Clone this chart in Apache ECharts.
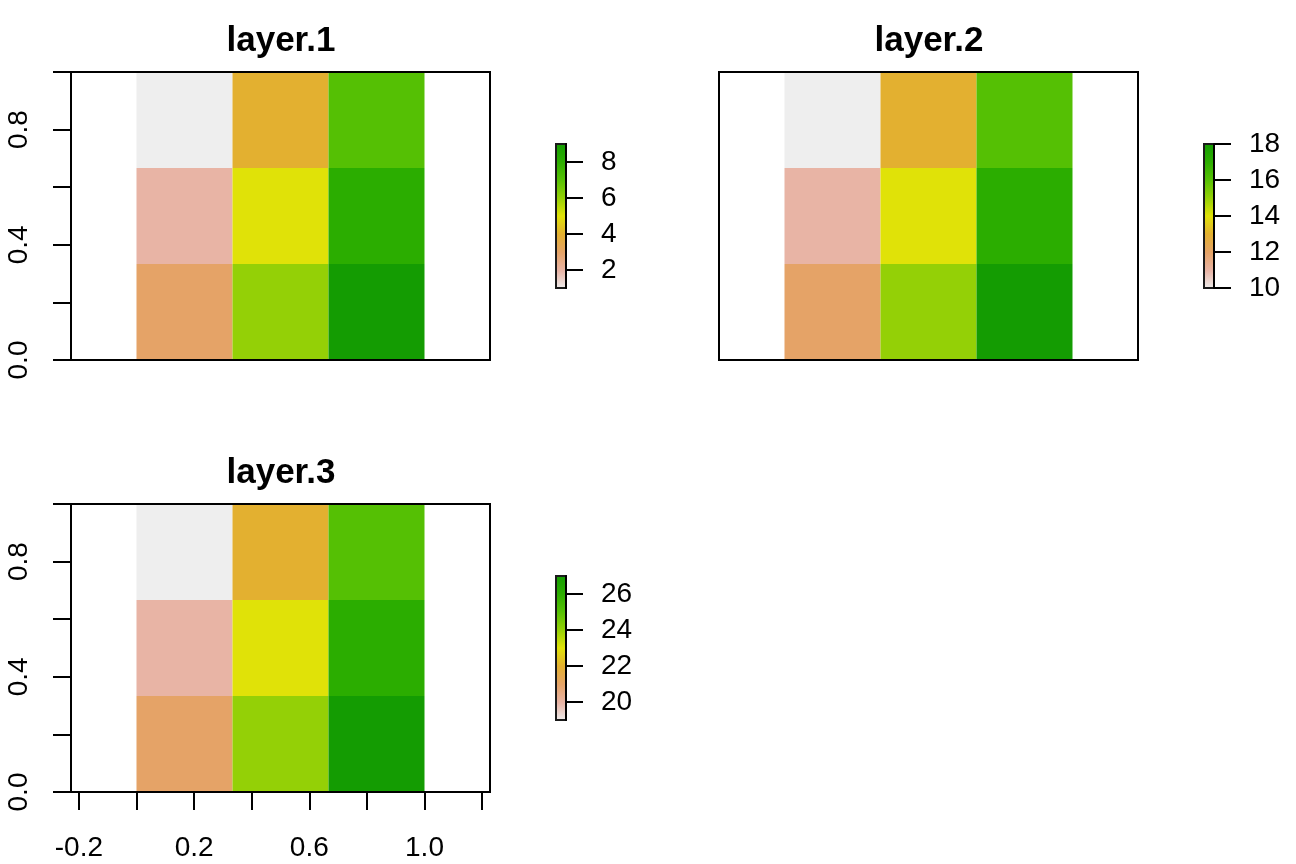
<!DOCTYPE html>
<html><head><meta charset="utf-8">
<script src="https://cdn.jsdelivr.net/npm/echarts@6/dist/echarts.min.js"></script>
<style>html,body{margin:0;padding:0;background:#fff}#chart{width:1296px;height:864px}</style>
</head><body><div id="chart"></div>
<script>
// ---------------- data ----------------
const layerNames = ['layer.1', 'layer.2', 'layer.3'];
const nRows = 3, nCols = 3;
const rasterExtent = [0, 1, 0, 1];            // xmin, xmax, ymin, ymax
// cell values, row by row from the top
const layer1 = [1, 4, 7, 2, 5, 8, 3, 6, 9];
const layer2 = [10, 13, 16, 11, 14, 17, 12, 15, 18];
const layer3 = [19, 22, 25, 20, 23, 26, 21, 24, 27];
const legendRanges = [[1, 9], [10, 18], [19, 27]];
const legendTicks = [[2, 4, 6, 8], [10, 12, 14, 16, 18], [20, 22, 24, 26]];
const xTicks = [-0.2, 0, 0.2, 0.4, 0.6, 0.8, 1.0, 1.2];
const xTickLabels = [-0.2, 0.2, 0.6, 1.0];
const yTicks = [0, 0.2, 0.4, 0.6, 0.8, 1.0];
const yTickLabels = [0, 0.4, 0.8];
const xLimits = [-0.2274, 1.2274];
const yLimits = [0, 1];
const palette = ['#EEEEEE', '#E8B4A5', '#E5A367', '#E3B030', '#E0E208', '#94D006', '#55C004', '#2BAD00', '#149C02'];

// ---------------- build ----------------
const layers = [layer1, layer2, layer3];
function cells(vals) {
  const [xmin, xmax, ymin, ymax] = rasterExtent;
  const dx = (xmax - xmin) / nCols, dy = (ymax - ymin) / nRows;
  const out = [];
  for (let r = 0; r < nRows; r++) for (let c = 0; c < nCols; c++) {
    const y1 = ymax - r * dy;
    out.push([xmin + c * dx, xmin + (c + 1) * dx, y1 - dy, y1, vals[r * nCols + c]]);
  }
  return out;
}
const FONT = "'Liberation Sans', Arial, Helvetica, sans-serif";
const panelPos = [{left: 71, top: 72}, {left: 719, top: 72}, {left: 71, top: 504}];
const barPos = [{left: 556, top: 144}, {left: 1204, top: 144}, {left: 556, top: 576}];
const grids = [], xAxes = [], yAxes = [], series = [], visualMaps = [], titles = [];

panelPos.forEach((p, i) => {
  grids.push({left: p.left, top: p.top, width: 419, height: 288, show: true,
    borderColor: '#000', borderWidth: 2, backgroundColor: 'transparent', z: 5});
  const showX = i === 2, showY = i !== 1;
  xAxes.push({type: 'value', gridIndex: i, min: xLimits[0], max: xLimits[1], show: showX, position: 'bottom',
    splitLine: {show: false}, axisLine: {show: false, onZero: false},
    axisTick: {show: true, length: 18, customValues: xTicks, lineStyle: {color: '#000', width: 2}},
    axisLabel: {show: true, customValues: xTickLabels, margin: 42, color: '#000', fontSize: 28, fontFamily: FONT,
      formatter: v => v.toFixed(1)}});
  yAxes.push({type: 'value', gridIndex: i, min: yLimits[0], max: yLimits[1], show: showY, position: 'left',
    splitLine: {show: false}, axisLine: {show: false, onZero: false},
    axisTick: {show: true, length: 18, customValues: yTicks, lineStyle: {color: '#000', width: 2}},
    axisLabel: {show: true, customValues: yTickLabels, rotate: 90, margin: 38, color: '#000', fontSize: 28, fontFamily: FONT,
      formatter: v => v.toFixed(1)}});
  titles.push({text: layerNames[i], left: p.left + 210, top: p.top - 48.5, textAlign: 'center', padding: 0,
    textStyle: {fontSize: 35, fontWeight: 'bold', color: '#000', fontFamily: FONT}});
  series.push({type: 'custom', name: layerNames[i], xAxisIndex: i, yAxisIndex: i, z: 2,
    data: cells(layers[i]), encode: {x: [0, 1], y: [2, 3]},
    renderItem: (params, api) => {
      const a = api.coord([api.value(0), api.value(3)]);
      const b = api.coord([api.value(1), api.value(2)]);
      return {type: 'rect', shape: {x: a[0], y: a[1], width: b[0] - a[0], height: b[1] - a[1]},
        style: {fill: api.visual('color'), stroke: null}};
    }});
  visualMaps.push({type: 'continuous', show: false, seriesIndex: i, dimension: 4,
    min: legendRanges[i][0], max: legendRanges[i][1], inRange: {color: palette}});
});

barPos.forEach((p, i) => {
  const gi = 3 + i;
  grids.push({left: p.left, top: p.top, width: 10, height: 144, show: false});
  xAxes.push({type: 'value', gridIndex: gi, min: 0, max: 1, show: false, axisLine: {onZero: false}});
  yAxes.push({type: 'value', gridIndex: gi, position: 'right', min: legendRanges[i][0], max: legendRanges[i][1],
    splitLine: {show: false}, z: 4,
    axisLine: {show: true, onZero: false, lineStyle: {color: '#000', width: 2}},
    axisTick: {show: true, length: 17, customValues: legendTicks[i], lineStyle: {color: '#000', width: 2}},
    axisLabel: {show: true, customValues: legendTicks[i], margin: 35, color: '#000', fontSize: 28, fontFamily: FONT}});
  const stops = palette.map((c, k) => ({offset: k / (palette.length - 1), color: c}));
  series.push({type: 'custom', xAxisIndex: gi, yAxisIndex: gi, z: 2,
    data: [[0, 1, legendRanges[i][0], legendRanges[i][1]]],
    renderItem: (params, api) => {
      const a = api.coord([api.value(0), api.value(3)]);
      const b = api.coord([api.value(1), api.value(2)]);
      return {type: 'rect', shape: {x: a[0], y: a[1], width: b[0] - a[0], height: b[1] - a[1]},
        style: {fill: new echarts.graphic.LinearGradient(0, 1, 0, 0, stops), stroke: '#1a1a1a', lineWidth: 2}};
    }});
});

const chart = echarts.init(document.getElementById('chart'), null, {renderer: 'canvas'});
chart.setOption({
  animation: false, backgroundColor: '#fff',
  title: titles, grid: grids, xAxis: xAxes, yAxis: yAxes, visualMap: visualMaps, series: series
});
</script></body></html>
